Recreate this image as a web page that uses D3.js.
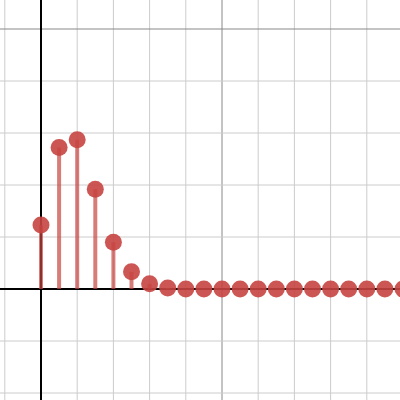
<!DOCTYPE html>
<html><head><meta charset="utf-8">
<script src="https://cdn.jsdelivr.net/npm/d3@7"></script>
<style>body{margin:0;background:#fff}</style></head>
<body><svg id="c" width="400" height="400"></svg>
<script>
const n = d3.range(0, 21);
const values = [1.23, 2.72, 2.87, 1.92, 0.9, 0.33, 0.1, 0.02, 0, 0, 0, 0, 0, 0, 0, 0, 0, 0, 0, 0, 0];

const width = 400, height = 400;
const svg = d3.select('#c');
const x = d3.scaleLinear().domain([-41 / 18.1, (width - 41) / 18.1]).range([0, width]);
const y = d3.scaleLinear().domain([289 / 52, -(height - 289) / 52]).range([0, height]);

// grid
const xt = d3.range(-2, 21, 2), yt = d3.range(-2, 6, 1);
svg.selectAll('.gx').data(xt).enter().append('line')
  .attr('x1', d => x(d)).attr('x2', d => x(d)).attr('y1', 0).attr('y2', height)
  .attr('stroke', d => d % 10 === 0 ? '#888' : '#ccc').attr('stroke-width', 1);
svg.selectAll('.gy').data(yt).enter().append('line')
  .attr('y1', d => y(d)).attr('y2', d => y(d)).attr('x1', 0).attr('x2', width)
  .attr('stroke', d => d % 5 === 0 ? '#888' : '#ccc').attr('stroke-width', 1);

// axes
svg.append('line').attr('x1', x(0)).attr('x2', x(0)).attr('y1', 0).attr('y2', height)
  .attr('stroke', '#000').attr('stroke-width', 2);
svg.append('line').attr('y1', y(0)).attr('y2', y(0)).attr('x1', 0).attr('x2', width)
  .attr('stroke', '#000').attr('stroke-width', 2);

// stems
svg.selectAll('.stem').data(n).enter().append('line')
  .attr('x1', d => x(d)).attr('x2', d => x(d))
  .attr('y1', y(0)).attr('y2', d => y(values[d]))
  .attr('stroke', '#c74440').attr('stroke-opacity', 0.7).attr('stroke-width', 4);

// points
svg.selectAll('.pt').data(n).enter().append('circle')
  .attr('cx', d => x(d)).attr('cy', d => y(values[d])).attr('r', 8.5)
  .attr('fill', '#c74440').attr('fill-opacity', 0.9);
</script></body></html>
